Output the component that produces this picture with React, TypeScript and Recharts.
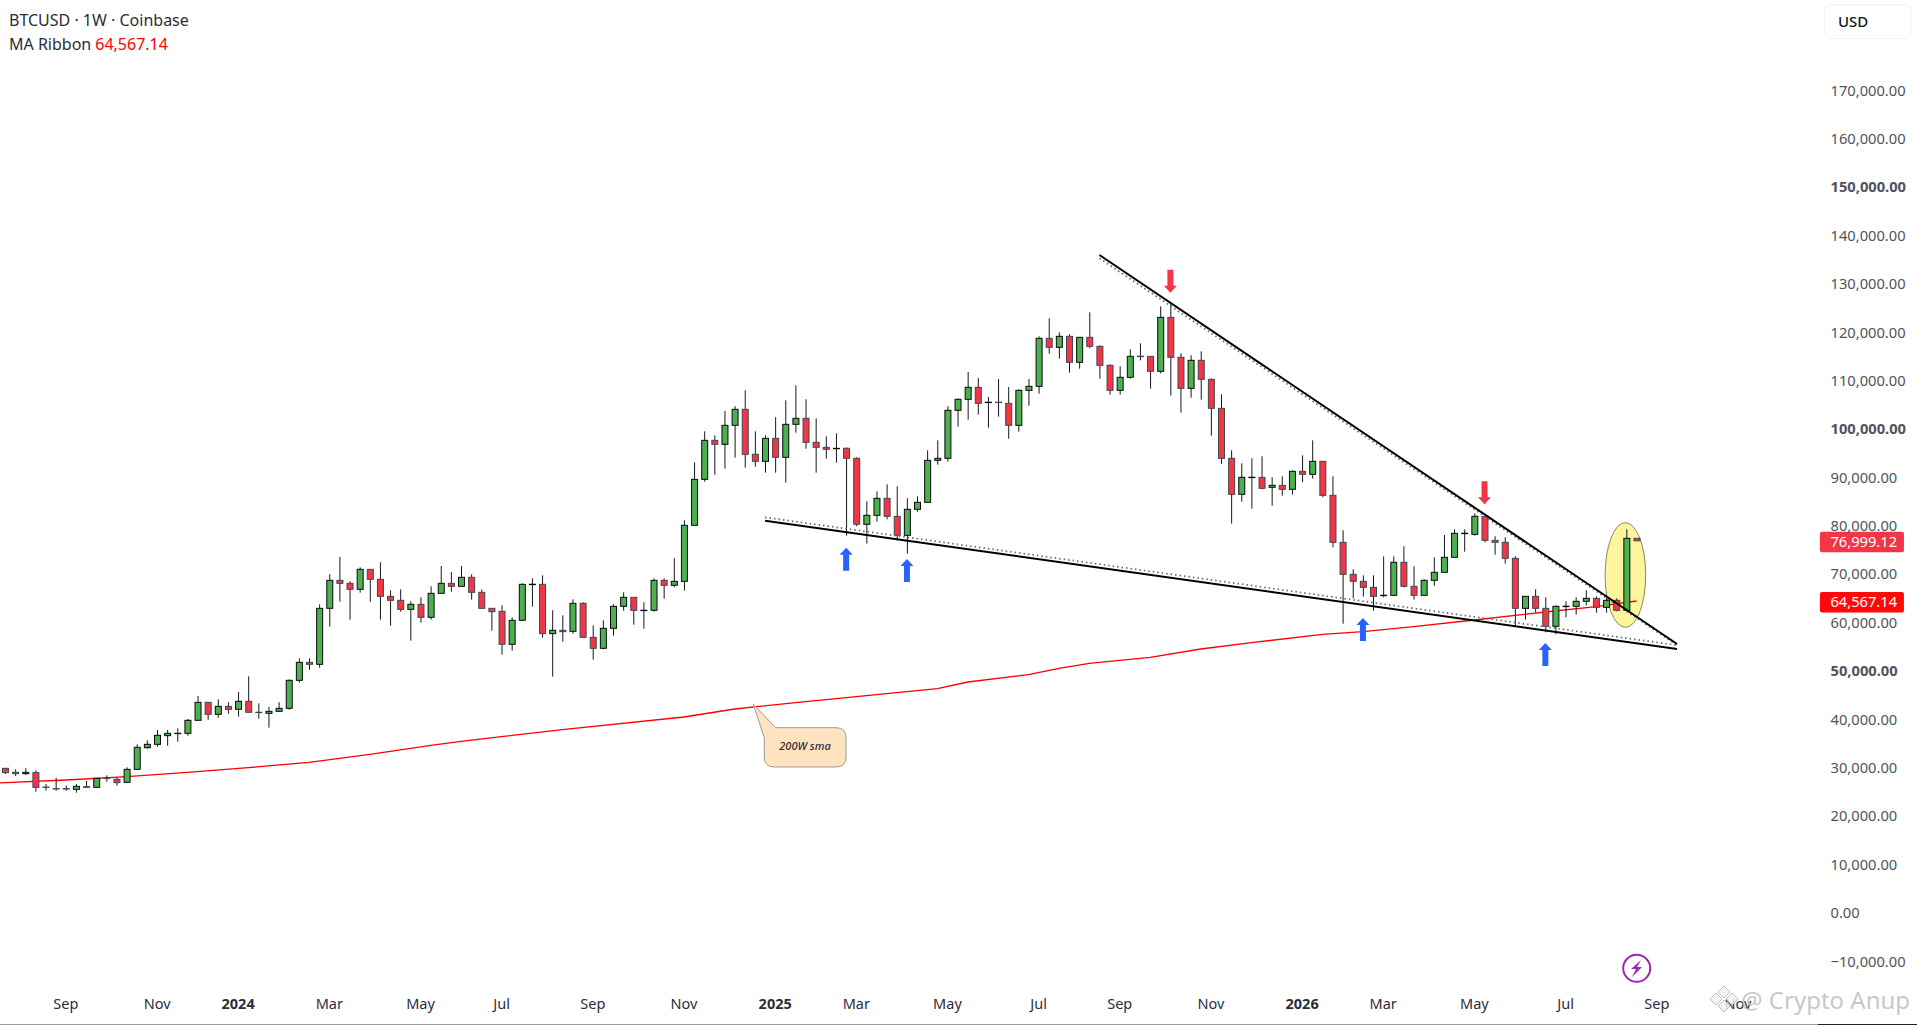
import React from "react";
import {
  ComposedChart,
  Bar,
  Line,
  XAxis,
  YAxis,
  ReferenceDot,
  ReferenceLine,
} from "recharts";

const FONT = '"Noto Sans", sans-serif';

// weekly candles, one entry per week
const opens = [
  29994, 29167, 28892, 29098, 26137, 25800, 25800, 25655, 26206, 26068,
  27997, 27721, 27101, 29787, 34264, 34952, 36743, 37200, 37225, 39911,
  43630, 41151, 42803, 42184, 43837, 41580, 41357, 41770, 42390, 48175,
  51894, 51481, 63051, 68836, 68216, 66977, 71109, 69043, 65531, 64704,
  62845, 63878, 61192, 66150, 68216, 67597, 69456,
  66358, 63052, 62432, 55614, 60572, 67990, 68010, 57818, 58506, 58300,
  64085, 57060, 54787, 58920, 63465, 65324, 62620, 62639, 68837, 67804,
  68630, 80200, 89704, 97762, 96936, 100861, 104167, 94870, 93423, 98175,
  94250, 101068, 102308, 97349, 96316, 96060, 96110, 94043, 80407, 82266,
  85779, 82060, 78134, 83506, 84952, 93630, 94043, 103961,
  106233, 108713, 105590, 105640, 105407, 100861, 108093, 108919, 118837, 116977,
  119250, 113878, 119043, 117184, 113258, 108093, 110779, 115140, 115118, 112018,
  123175, 114911, 108506, 114291, 110366, 104374, 94043, 86605, 90090, 90118,
  88052, 88465, 87638, 91357, 90738, 93424, 86399,
  76687, 70075, 68629, 67390, 65710, 65737, 72555, 67596, 65737, 68836,
  70489, 73588, 78520, 78340, 82059, 77100, 76687, 73381, 63051, 65530,
  63051, 59332, 63440, 63464, 64497, 65117, 63257, 64704, 62638, 77513,
];
const closes = [
  29098, 28892, 29167, 26068, 26068, 25760, 25760, 26275, 26068, 27928,
  27960, 27032, 29787, 34332, 34952, 36812, 37225, 37240, 39911, 43630,
  41151, 42803, 42184, 43837, 41564, 41540, 41770, 42390, 48175, 51894,
  51481, 63051, 68836, 68216, 66977, 71109, 69043, 65531, 64704, 62845,
  63878, 61192, 66150, 68216, 67597, 69456, 66357,
  63052, 62363, 55614, 60572, 68010, 68030, 57818, 58506, 58231, 64085,
  57060, 54787, 58920, 63465, 65324, 62639, 62660, 68837, 67804, 68630,
  80200, 89704, 97762, 96936, 100861, 104167, 94870, 93423, 98175, 94250,
  101068, 102308, 97349, 96316, 95903, 96110, 94043, 80407, 82266, 85779,
  82060, 78134, 83506, 84952, 93630, 94043, 103961, 106233,
  108713, 105407, 105640, 105590, 100861, 108093, 108919, 118837, 116977, 119250,
  113878, 119043, 117184, 113258, 108093, 110779, 115118, 115090, 112018, 123175,
  114911, 108506, 114291, 110366, 104374, 94043, 86605, 90118, 90140, 87845,
  88465, 87638, 91357, 90738, 93424, 86399, 76688,
  70075, 68629, 67390, 65530, 65760, 72555, 67596, 65737, 68836, 70489,
  73588, 78546, 78570, 82059, 77100, 76687, 73381, 63051, 65530, 63051,
  59332, 63464, 63490, 64497, 65117, 63257, 64704, 62638, 77513, 76999,
];
const highs = [
  29994, 29787, 29994, 29581, 26757, 27996, 26412, 26757, 27377, 27928,
  28547, 28065, 30200, 34952, 35779, 37914, 37914, 38258, 40186, 44938,
  43630, 44250, 43630, 45765, 49002, 43423, 42666, 43630, 48382, 52721,
  52721, 63878, 70076, 73657, 68630, 71522, 71109, 72555, 66770, 66977,
  64498, 65324, 67597, 71798, 70558, 71798, 70076,
  66977, 63052, 63672, 61192, 68217, 69250, 69870, 62639, 61605, 64911,
  64291, 59539, 60572, 63878, 66358, 65324, 64291, 69250, 69250, 73382,
  81233, 93217, 99622, 98795, 103823, 104787, 108093, 99622, 98795, 102514,
  106027, 109126, 106233, 102308, 98589, 99208, 96316, 94250, 85159, 87225,
  88671, 88258, 85779, 86192, 95696, 97762, 104787, 106440,
  111881, 110641, 106715, 110434, 108782, 108299, 110434, 119250, 122969, 120076,
  119663, 119043, 124208, 117390, 113465, 113051, 116564, 117803, 115118, 125448,
  126068, 115737, 115324, 116151, 110572, 107266, 95696, 93010, 94043, 94457,
  90118, 90324, 91564, 94663, 97762, 93424, 90324,
  79166, 71109, 69869, 69869, 73794, 73794, 75861, 71728, 69042, 73588,
  78202, 79373, 79373, 82679, 82059, 77927, 77720, 73794, 65530, 66976,
  65323, 63671, 64497, 65323, 66770, 65530, 65323, 65117, 79373, 77513,
];
const lows = [
  28823, 28410, 28617, 25173, 25379, 25379, 25379, 24966, 25999, 26068,
  27239, 26412, 27032, 29787, 34057, 34470, 34677, 35503, 36743, 39911,
  40049, 40462, 41288, 40668, 41564, 40255, 38396, 41702, 42115, 47693,
  50379, 50792, 59263, 64429, 60710, 66288, 64429, 60710, 59470, 62363,
  56371, 60090, 60710, 66150, 66495, 67597, 64842,
  63052, 58437, 53479, 54305, 60572, 63396, 56991, 48933, 56165, 57818,
  57060, 52446, 54581, 57404, 62570, 59677, 58851, 62363, 65049, 67391,
  66702, 80200, 89222, 90669, 91908, 94181, 92115, 92321, 91082, 91082,
  89016, 99346, 96040, 91082, 93974, 93148, 78065, 79994, 76413, 80958,
  81440, 77101, 74346, 83024, 84952, 92735, 93355, 100586,
  102032, 103065, 100379, 102652, 98107, 99553, 104925, 107404, 115669, 114635,
  111743, 112569, 116770, 110503, 107198, 107198, 110503, 114291, 108437, 111605,
  106991, 103479, 106578, 106164, 98727, 92941, 80545, 85090, 83644, 87638,
  84264, 86330, 86537, 89085, 89842, 85986, 75655,
  59883, 65117, 65461, 62569, 65323, 65737, 67390, 64841, 65737, 67734,
  70489, 73588, 74759, 78064, 76687, 74139, 72279, 59263, 60709, 62224,
  58092, 57679, 61191, 61742, 63671, 62155, 62155, 62431, 62638, 76999,
];

// 200W sma, sampled along the red line. week -1 is the slot just off the left edge
const smaWeeks = [-1, 6, 12, 18, 24, 30, 36, 42, 45, 55, 67, 72, 78, 86, 92, 95, 101, 104, 107, 113, 118, 123, 130, 134, 139, 145, 152, 157, 161];
const smaValues = [26950, 27583, 28272, 29168, 30130, 31233, 32887, 34746, 35572, 37982, 40599, 42252, 43561, 45214, 46454, 47831, 49346, 50655, 51688, 52927, 54649, 55958, 57680, 58230, 59262, 60640, 62293, 63395, 64567];

const FIRST_WEEK = -1;
const WEEK_SLOTS = 181;
const SLOT_WIDTH = 1824 / 180;

const tickWeeks = [6, 15, 23, 32, 41, 49, 58, 67, 76, 84, 93, 102, 110, 119, 128, 136, 145, 154, 163, 171];
const tickLabels = ["Sep", "Nov", "2024", "Mar", "May", "Jul", "Sep", "Nov", "2025", "Mar", "May", "Jul", "Sep", "Nov", "2026", "Mar", "May", "Jul", "Sep", "Nov"];

const priceTicks = [-10000, 0, 10000, 20000, 30000, 40000, 50000, 60000, 70000, 80000, 90000, 100000, 110000, 120000, 130000, 140000, 150000, 160000, 170000];
const boldPrices = [50000, 100000, 150000];

const upTrend = [{ x: 108, y: 136054 }, { x: 165, y: 55682 }];
const upTrendDotted = [{ x: 108, y: 135372 }, { x: 165, y: 55413 }];
const lowTrend = [{ x: 75, y: 81157 }, { x: 165, y: 54649 }];
const lowTrendDotted = [{ x: 75, y: 81860 }, { x: 165, y: 55413 }];

const blueArrows = [{ week: 83, price: 73181 }, { week: 89, price: 70868 }, { week: 134, price: 58678 }, { week: 152, price: 53512 }];
const redArrows = [{ week: 115, price: 130620 }, { week: 146, price: 86942 }];

const LAST_PRICE = 76999.12;
const SMA_PRICE = 64567.14;

const rows = Array.from({ length: WEEK_SLOTS }, (_, n) => {
  const i = n + FIRST_WEEK;
  const smaAt = smaWeeks.indexOf(i);
  const hasCandle = i >= 0 && i < opens.length;
  return {
    week: i,
    open: hasCandle ? opens[i] : undefined,
    close: hasCandle ? closes[i] : undefined,
    high: hasCandle ? highs[i] : undefined,
    low: hasCandle ? lows[i] : undefined,
    range: hasCandle ? [lows[i], highs[i]] : undefined,
    sma: smaAt >= 0 ? smaValues[smaAt] : undefined,
  };
});

const fmt = (v: number) =>
  v.toLocaleString("en-US", { minimumFractionDigits: 2, maximumFractionDigits: 2 }).replace("-", "\u2212");

// eslint-disable-next-line @typescript-eslint/no-explicit-any
function Candle(props: any) {
  const { x, y, width, height, payload } = props;
  if (!payload || payload.open === undefined) return null;
  const { open, close, high, low } = payload;
  const perUnit = height / (high - low);
  const up = close >= open;
  const top = y + (high - Math.max(open, close)) * perUnit;
  const bodyH = Math.abs(open - close) * perUnit;
  const mid = x + width / 2;
  return (
    <g>
      <line x1={mid} x2={mid} y1={y} y2={y + height} stroke="#131722" strokeWidth={1} />
      <rect
        x={x + 0.5}
        y={top}
        width={width - 1}
        height={Math.max(bodyH, 0.4)}
        fill={up ? "#4CAF50" : "#F23645"}
        stroke={up ? "#0b0b0b" : "#434651"}
        strokeWidth={1}
      />
    </g>
  );
}

// eslint-disable-next-line @typescript-eslint/no-explicit-any
function PriceTick({ x, y, payload }: any) {
  return (
    <text
      x={x + 6.5}
      y={y - 1.2}
      dominantBaseline="central"
      fontFamily={FONT}
      fontSize={14.7}
      fontWeight={boldPrices.includes(payload.value) ? 700 : 400}
      fill="#50535E"
    >
      {fmt(payload.value)}
    </text>
  );
}

// eslint-disable-next-line @typescript-eslint/no-explicit-any
function WeekTick({ x, y, payload }: any) {
  const label = tickLabels[tickWeeks.indexOf(payload.value)];
  return (
    <text
      x={x}
      y={y + 18}
      textAnchor="middle"
      dominantBaseline="central"
      fontFamily={FONT}
      fontSize={14.5}
      fontWeight={/^\d/.test(label ?? "") ? 700 : 400}
      fill="#2A2E39"
    >
      {label}
    </text>
  );
}

// eslint-disable-next-line @typescript-eslint/no-explicit-any
const upArrow = ({ cx, cy }: any) => (
  <path
    d={`M${cx} ${cy - 11.5} L${cx + 6.5} ${cy - 4.5} L${cx + 3} ${cy - 4.5} L${cx + 3} ${cy + 11.5} L${cx - 3} ${cy + 11.5} L${cx - 3} ${cy - 4.5} L${cx - 6.5} ${cy - 4.5} Z`}
    fill="#2962FF"
  />
);

// eslint-disable-next-line @typescript-eslint/no-explicit-any
const downArrow = ({ cx, cy }: any) => (
  <path
    d={`M${cx} ${cy + 11.5} L${cx + 6.5} ${cy + 4.5} L${cx + 3} ${cy + 4.5} L${cx + 3} ${cy - 11.5} L${cx - 3} ${cy - 11.5} L${cx - 3} ${cy + 4.5} L${cx - 6.5} ${cy + 4.5} Z`}
    fill="#F23645"
  />
);

// eslint-disable-next-line @typescript-eslint/no-explicit-any
const highlight = ({ cx, cy }: any) => (
  <ellipse cx={cx - 1} cy={cy} rx={20.3} ry={52.3} fill="#FFF59D" stroke="#7F8F55" strokeWidth={1} />
);

// eslint-disable-next-line @typescript-eslint/no-explicit-any
const callout = ({ cx, cy }: any) => {
  const tx = cx - 1.6;
  const ty = cy;
  const l = tx + 11;
  const r = tx + 92.7;
  const t = ty + 23.4;
  const b = ty + 62.7;
  return (
    <g>
      <path
        d={`M${tx} ${ty} L${tx + 22.4} ${t} L${r - 10} ${t} Q${r} ${t} ${r} ${t + 10} L${r} ${b - 10} Q${r} ${b} ${r - 10} ${b} L${l + 10} ${b} Q${l} ${b} ${l} ${b - 10} L${l} ${ty + 33.7} Z`}
        fill="#FDE3BF"
        stroke="#9B9B9B"
        strokeWidth={1}
      />
      <text
        x={tx + 51.7}
        y={ty + 41.5}
        textAnchor="middle"
        dominantBaseline="central"
        fontFamily={FONT}
        fontStyle="italic"
        fontSize={11}
        fontWeight={500}
        fill="#2A2E39"
      >
        200W sma
      </text>
    </g>
  );
};

// eslint-disable-next-line @typescript-eslint/no-explicit-any
const priceBadge = (fill: string, value: number) => ({ cx, cy }: any) => (
  <g>
    <rect x={cx + 1} y={cy - 9} width={84} height={20.5} rx={2} fill={fill} />
    <text
      x={cx + 11.5}
      y={cy + 0.2}
      dominantBaseline="central"
      fontFamily={FONT}
      fontSize={14.7}
      fill="#FFFFFF"
    >
      {fmt(value)}
    </text>
  </g>
);

export default function App() {
  return (
    <div style={{ position: "absolute", left: 0, top: 0, width: 1917, height: 1025, overflow: "hidden", background: "#fff" }}>
      <ComposedChart
        width={1917}
        height={1025}
        data={rows}
        margin={{ top: 0, right: 0, bottom: 0, left: -SLOT_WIDTH }}
      >
        <XAxis
          dataKey="week"
          height={40}
          ticks={tickWeeks}
          interval={0}
          tick={<WeekTick />}
          tickLine={false}
          axisLine={false}
          tickSize={0}
          tickMargin={0}
        />
        <YAxis
          orientation="right"
          width={93}
          type="number"
          domain={[-14773, 188740]}
          allowDataOverflow
          ticks={priceTicks}
          interval={0}
          tick={<PriceTick />}
          tickLine={false}
          axisLine={false}
          tickSize={0}
          tickMargin={0}
        />
        <ReferenceDot x={160} y={69938} r={1} shape={highlight} zIndex={100} />
        <Line
          dataKey="sma"
          type="linear"
          connectNulls
          dot={false}
          activeDot={false}
          stroke="#FF0000"
          strokeWidth={1.3}
          isAnimationActive={false}
          zIndex={200}
        />
        <Bar dataKey="range" barSize={7} shape={<Candle />} isAnimationActive={false} zIndex={300} />
        <ReferenceLine segment={upTrendDotted} stroke="#6A6D78" strokeWidth={1.8} strokeDasharray="1.5 3" ifOverflow="visible" zIndex={350} />
        <ReferenceLine segment={lowTrendDotted} stroke="#6A6D78" strokeWidth={1.8} strokeDasharray="1.5 3" ifOverflow="visible" zIndex={350} />
        <ReferenceLine segment={upTrend} stroke="#000000" strokeWidth={2} ifOverflow="visible" zIndex={360} />
        <ReferenceLine segment={lowTrend} stroke="#000000" strokeWidth={2} ifOverflow="visible" zIndex={360} />
        {blueArrows.map((a) => (
          <ReferenceDot key={a.week} x={a.week} y={a.price} r={1} shape={upArrow} zIndex={400} />
        ))}
        {redArrows.map((a) => (
          <ReferenceDot key={a.week} x={a.week} y={a.price} r={1} shape={downArrow} zIndex={400} />
        ))}
        <ReferenceDot x={74} y={43223} r={1} shape={callout} zIndex={400} />
        <ReferenceDot x={179} y={LAST_PRICE} r={1} shape={priceBadge("#F23645", LAST_PRICE)} zIndex={600} />
        <ReferenceDot x={179} y={SMA_PRICE} r={1} shape={priceBadge("#FF0A0A", SMA_PRICE)} zIndex={600} />
      </ComposedChart>

      <div style={{ position: "absolute", left: 9, top: 8.5, fontFamily: FONT, fontSize: 16, lineHeight: "22px", color: "#2A2E39", whiteSpace: "nowrap" }}>
        BTCUSD · 1W · Coinbase
      </div>
      <div style={{ position: "absolute", left: 9, top: 33, fontFamily: FONT, fontSize: 16, lineHeight: "22px", color: "#2A2E39", whiteSpace: "nowrap" }}>
        MA Ribbon
        <span style={{ color: "#FF0000", marginLeft: 4 }}>{SMA_PRICE.toLocaleString("en-US")}</span>
      </div>
      <div style={{ position: "absolute", left: 1824, top: 4, width: 87, height: 35, boxSizing: "border-box", border: "1px solid #F0F3FA", borderRadius: 6, paddingLeft: 13, fontFamily: FONT, fontSize: 15, fontWeight: 500, lineHeight: "33px", color: "#131722" }}>
        USD
      </div>

      <svg width={1917} height={1025} style={{ position: "absolute", left: 0, top: 0, pointerEvents: "none" }}>
        <circle cx={1636.7} cy={968.3} r={13.5} fill="none" stroke="#9C27B0" strokeWidth={2} />
        <path d="M1641 960 L1631 969 L1636 969 L1632 977 L1642 967 L1637 967 Z" fill="#9C27B0" />
        <g fill="#F2F2F2" fillOpacity={0.8} stroke="#BDBDBD" strokeWidth={1}>
          <path d="M1724 986 L1730 992 L1724 998 L1718 992 Z" />
          <path d="M1716 993 L1722 999 L1716 1005 L1710 999 Z" />
          <path d="M1732 993 L1738 999 L1732 1005 L1726 999 Z" />
          <path d="M1724 1000 L1730 1006 L1724 1012 L1718 1006 Z" />
        </g>
        <text x={1741} y={1009} fontFamily={FONT} fontSize={24} fill="#BDBDBD" fillOpacity={0.85}>
          @ Crypto Anup
        </text>
        <line x1={0} x2={1818} y1={1024.5} y2={1024.5} stroke="#999999" strokeWidth={1} />
        <line x1={1818} x2={1917} y1={1024.5} y2={1024.5} stroke="#222222" strokeWidth={1} />
      </svg>
    </div>
  );
}
